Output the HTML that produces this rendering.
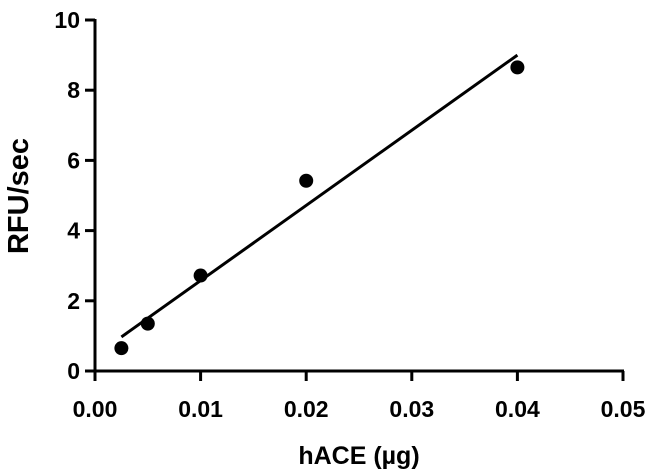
<!DOCTYPE html>
<html><head><meta charset="utf-8"><style>
body{margin:0;background:#fff}
svg text{font-family:"Liberation Sans",Arial,sans-serif;font-weight:bold;fill:#000}
</style></head><body>
<svg id="chart" width="650" height="471"></svg>
<script>
const xVals=[0.0025,0.005,0.01,0.02,0.04];
const yVals=[0.65,1.35,2.72,5.42,8.65];
const fitX=[0.0025,0.04];
const fitY=[0.97,9.0];
const xTicks=[0,0.01,0.02,0.03,0.04,0.05];
const xTickLabels=["0.00","0.01","0.02","0.03","0.04","0.05"];
const yTicks=[0,2,4,6,8,10];
const yTickLabels=["0","2","4","6","8","10"];
const NS="http://www.w3.org/2000/svg";
const svg=document.getElementById('chart');
const X0=95,X1=623,Y0=371,Y1=20;
const xs=v=>X0+(v-0)/0.05*(X1-X0);
const ys=v=>Y0-(v/10)*(Y0-Y1);
function mk(t,a){const e=document.createElementNS(NS,t);for(const k in a)e.setAttribute(k,a[k]);svg.appendChild(e);return e;}
let e;
e=mk('line',{x1:X0,y1:Y0,x2:X1+1,y2:Y0,stroke:'#000','stroke-width':3});


e=mk('line',{x1:X0,y1:Y0+1,x2:X0,y2:Y1-1,stroke:'#000','stroke-width':3});


xTicks.forEach((t,i)=>{
 const x=xs(t);
 let l=mk('line',{x1:x,y1:Y0,x2:x,y2:Y0+10,stroke:'#000','stroke-width':3});
 
 
 let tx=mk('text',{x:x,y:Y0+46,'text-anchor':'middle','font-size':23});
 tx.textContent=xTickLabels[i];
 
 
});
yTicks.forEach((t,i)=>{
 const y=ys(t);
 let l=mk('line',{x1:X0-10,y1:y,x2:X0,y2:y,stroke:'#000','stroke-width':3});
 
 
 let tx=mk('text',{x:X0-15,y:y+8,'text-anchor':'end','font-size':23});
 tx.textContent=yTickLabels[i];
 
 
});
e=mk('line',{x1:xs(fitX[0]),y1:ys(fitY[0]),x2:xs(fitX[1]),y2:ys(fitY[1]),stroke:'#000','stroke-width':3});


xVals.forEach((v,i)=>{
 let c=mk('circle',{cx:xs(v),cy:ys(yVals[i]),r:7,fill:'#000'});
 
 
});
e=mk('text',{x:(X0+X1)/2,y:464,'text-anchor':'middle','font-size':25});
e.textContent='hACE (\u00b5g)';


e=mk('text',{x:0,y:0,'text-anchor':'middle','font-size':29,transform:'translate(28,196) rotate(-90)'});
e.textContent='RFU/sec';


</script>
</body></html>
